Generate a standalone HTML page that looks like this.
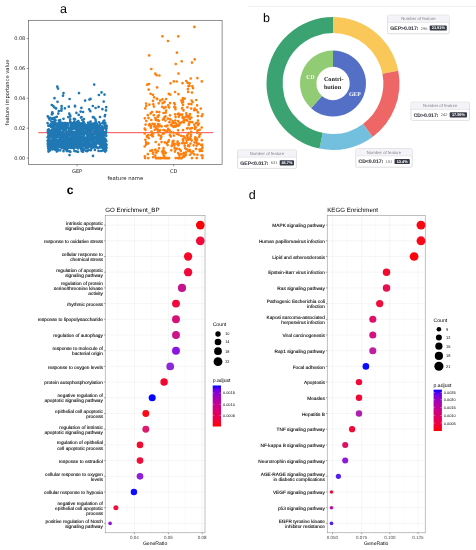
<!DOCTYPE html>
<html><head><meta charset="utf-8"><title>figure</title>
<style>
html,body{margin:0;padding:0;background:#fff;}
body{width:476px;height:550px;overflow:hidden;}
svg{display:block;text-rendering:geometricPrecision;filter:blur(0.35px);}
.ar{font-family:"Liberation Sans",Arial,sans-serif;}
.lb{stroke:#000;stroke-width:.09px;}
.tb{stroke:#3a3a42;stroke-width:.12px;}
.arb{font-family:"Liberation Sans",Arial,sans-serif;font-weight:bold;}
.dv{font-family:"DejaVu Sans","Liberation Sans",sans-serif;fill:#222;}
.srb{font-family:"Liberation Serif","Times New Roman",serif;font-weight:bold;}
</style></head><body>
<svg width="476" height="550" viewBox="0 0 476 550">
<defs><linearGradient id="pg" x1="0" y1="0" x2="0" y2="1"><stop offset="0.0" stop-color="#0000ff"/><stop offset="0.1" stop-color="#6800e7"/><stop offset="0.2" stop-color="#8d00ce"/><stop offset="0.3" stop-color="#a600b7"/><stop offset="0.4" stop-color="#ba009f"/><stop offset="0.5" stop-color="#ca0088"/><stop offset="0.6" stop-color="#d70072"/><stop offset="0.7" stop-color="#e3005b"/><stop offset="0.8" stop-color="#ed0044"/><stop offset="0.9" stop-color="#f6002a"/><stop offset="1.0" stop-color="#ff0000"/></linearGradient></defs>
<rect width="476" height="550" fill="#fff"/>
<line x1="38.3" y1="132.7" x2="213" y2="132.7" stroke="#f9353a" stroke-width="0.9"/>
<path d="M52.2 146.8h0M77.7 136.1h0M98.2 141.3h0M78.9 136.9h0M70.8 133.0h0M49.0 139.7h0M89.0 140.3h0M70.7 146.8h0M66.6 143.9h0M69.4 140.3h0M72.2 137.6h0M67.4 135.7h0M64.8 142.1h0M74.8 146.9h0M50.3 143.6h0M60.9 134.1h0M73.4 144.7h0M99.9 141.1h0M72.8 133.8h0M80.4 147.6h0M100.4 138.8h0M95.2 133.5h0M89.7 144.4h0M84.2 139.6h0M82.8 134.1h0M58.8 145.9h0M55.5 140.0h0M50.8 136.5h0M53.1 137.7h0M83.9 140.8h0M83.5 144.8h0M49.7 140.5h0M97.1 142.3h0M73.6 140.7h0M79.4 142.4h0M51.9 135.2h0M98.3 136.2h0M52.2 143.2h0M60.0 139.2h0M75.0 143.7h0M77.0 141.0h0M79.1 142.6h0M102.9 137.9h0M49.6 142.3h0M87.5 140.9h0M72.9 137.0h0M95.6 141.7h0M87.0 134.1h0M95.6 145.2h0M98.6 136.7h0M93.7 141.5h0M55.3 141.4h0M79.3 138.3h0M93.3 140.0h0M93.3 141.6h0M102.4 147.9h0M72.1 146.5h0M48.0 137.1h0M90.6 140.0h0M64.0 137.3h0M86.3 133.4h0M50.4 137.5h0M68.5 147.1h0M85.0 143.2h0M55.0 138.9h0M66.3 144.4h0M56.1 133.2h0M100.3 133.5h0M93.3 135.0h0M85.3 140.7h0M78.3 135.1h0M105.4 145.9h0M62.8 143.2h0M89.3 140.9h0M52.6 136.6h0M84.3 140.5h0M59.1 145.9h0M48.1 142.7h0M101.3 143.0h0M64.0 143.4h0M106.1 145.4h0M87.7 141.6h0M87.2 141.1h0M87.4 136.1h0M106.2 135.8h0M60.8 140.0h0M106.0 140.9h0M66.5 136.1h0M53.1 134.4h0M102.1 137.7h0M53.3 135.7h0M75.6 133.6h0M96.9 147.3h0M63.9 134.6h0M90.1 143.7h0M85.5 140.7h0M88.4 135.8h0M56.4 137.0h0M89.1 145.7h0M97.2 137.9h0M55.9 146.9h0M104.4 142.5h0M103.8 135.6h0M66.4 141.4h0M104.1 138.8h0M103.1 136.8h0M54.4 135.4h0M91.5 136.4h0M104.5 147.8h0M96.3 141.5h0M55.4 140.9h0M71.6 147.1h0M80.9 139.7h0M69.5 138.7h0M70.3 135.3h0M53.2 133.6h0M47.9 146.0h0M65.6 144.4h0M72.6 137.9h0M81.8 145.9h0M104.1 144.5h0M52.8 139.2h0M68.1 145.4h0M99.0 136.0h0M96.4 134.9h0M54.1 147.4h0M87.5 139.8h0M52.8 135.8h0M103.5 133.1h0M62.9 143.8h0M83.4 145.4h0M75.4 134.6h0M77.8 134.1h0M60.2 144.9h0M68.7 141.2h0M64.2 137.0h0M84.0 135.1h0M72.5 145.4h0M82.5 137.8h0M79.3 135.6h0M86.9 139.6h0M105.3 145.4h0M79.1 147.4h0M79.9 143.7h0M83.9 135.6h0M79.9 147.3h0M71.8 147.8h0M62.1 142.4h0M79.3 147.0h0M62.1 145.7h0M86.5 147.6h0M100.0 139.9h0M94.9 137.3h0M94.1 141.4h0M60.1 145.9h0M49.5 142.9h0M59.6 138.9h0M81.3 133.6h0M54.9 132.8h0M53.4 144.3h0M106.6 147.8h0M68.5 135.3h0M51.3 133.8h0M77.8 141.0h0M88.8 136.2h0M74.7 134.7h0M55.3 138.7h0M78.0 134.6h0M51.6 147.6h0M90.7 143.8h0M103.1 143.7h0M50.0 146.1h0M81.3 134.1h0M96.7 147.5h0M85.4 137.7h0M56.3 146.9h0M51.5 142.4h0M74.6 141.6h0M50.4 145.2h0M97.0 140.0h0M78.1 139.8h0M66.3 143.1h0M93.1 136.7h0M60.2 145.5h0M77.9 145.0h0M77.5 142.5h0M53.7 142.2h0M94.9 144.8h0M88.9 133.9h0M59.3 135.3h0M73.0 146.3h0M65.8 142.3h0M103.0 144.4h0M87.0 141.1h0M103.4 143.7h0M92.9 140.3h0M94.4 133.9h0M65.9 142.1h0M97.7 138.0h0M67.3 138.9h0M96.5 136.5h0M89.5 147.0h0M77.7 136.6h0M57.6 133.5h0M83.1 138.7h0M84.5 143.6h0M88.1 137.7h0M51.4 137.1h0M62.3 137.9h0M80.7 145.7h0M98.0 133.1h0M61.3 133.4h0M100.6 141.5h0M105.2 138.9h0M52.8 147.3h0M90.4 132.9h0M71.0 135.5h0M55.7 138.2h0M60.7 136.3h0M68.9 145.1h0M48.6 143.3h0M88.6 144.2h0M74.4 138.9h0M68.0 146.5h0M98.9 134.3h0M104.7 140.9h0M74.6 141.2h0M65.9 146.3h0M83.2 137.5h0M71.5 135.5h0M100.3 138.4h0M64.6 144.3h0M55.1 136.0h0M48.4 145.7h0M57.6 135.3h0M53.1 139.1h0M101.4 143.5h0M87.8 140.1h0M81.9 138.4h0M103.4 144.0h0M84.1 135.0h0M89.3 141.5h0M56.9 134.3h0M64.5 135.2h0M84.1 146.4h0M97.0 138.1h0M64.2 143.2h0M74.4 136.5h0M64.2 139.7h0M64.6 141.0h0M81.5 134.3h0M101.9 147.1h0M105.3 139.5h0M81.0 142.9h0M48.9 147.4h0M63.9 136.5h0M86.3 139.4h0M102.2 134.3h0M56.1 138.8h0M96.6 142.8h0M99.6 132.9h0M52.8 146.2h0M101.1 147.1h0M82.7 136.8h0M97.6 142.3h0M87.4 142.4h0M87.7 134.6h0M99.3 143.0h0M92.7 134.4h0M71.7 138.1h0M70.1 142.9h0M104.8 147.0h0M63.1 144.2h0M69.8 133.2h0M56.0 141.8h0M67.6 145.5h0M82.1 143.4h0M59.0 134.2h0M72.7 145.4h0M83.5 136.1h0M70.3 145.9h0M92.2 133.3h0M78.0 139.9h0M66.7 147.3h0M90.4 133.8h0M80.3 142.5h0M74.2 136.8h0M57.0 140.0h0M105.9 146.5h0M57.8 146.3h0M70.3 145.7h0M82.2 145.5h0M102.8 147.1h0M65.3 147.2h0M54.3 133.5h0M89.3 146.6h0M103.8 140.2h0M74.3 146.1h0M106.6 144.7h0M66.6 136.3h0M99.6 133.6h0M47.6 140.8h0M87.7 147.9h0M99.9 132.7h0M64.1 147.2h0M97.7 142.0h0M83.0 139.7h0M66.5 134.4h0M50.0 135.4h0M86.7 138.7h0M69.7 141.9h0M79.7 135.2h0M59.3 134.7h0M48.6 134.7h0M53.2 137.0h0M85.4 146.5h0M55.0 143.4h0M65.1 140.5h0M82.5 140.2h0M63.7 135.3h0M75.5 144.3h0M71.9 137.8h0M93.5 142.2h0M71.4 136.1h0M64.3 145.0h0M105.9 140.7h0M57.7 146.4h0M85.4 144.7h0M84.4 133.7h0M68.2 143.1h0M91.5 134.3h0M92.1 140.0h0M75.7 147.3h0M66.6 135.9h0M54.2 147.2h0M99.0 135.3h0M105.7 147.8h0M64.1 137.7h0M66.5 145.4h0M85.7 142.7h0M93.6 133.4h0M97.5 140.5h0M93.0 137.9h0M87.8 136.7h0M84.3 146.3h0M48.4 135.2h0M76.5 134.0h0M89.4 145.6h0M65.4 139.6h0M62.1 143.6h0M71.9 136.7h0M79.7 147.5h0M48.2 140.1h0M92.0 135.9h0M89.5 136.7h0M60.8 146.3h0M62.2 135.3h0M57.8 144.3h0M71.9 135.6h0M104.3 140.4h0M70.6 145.5h0M102.3 136.8h0M58.2 135.6h0M61.7 137.3h0M77.5 133.2h0M56.4 144.0h0M54.2 144.4h0M87.2 145.7h0M67.8 139.7h0M88.9 141.9h0M61.0 142.5h0M65.2 140.9h0M100.4 143.8h0M81.8 147.9h0M54.8 140.8h0M72.4 143.7h0M53.4 141.1h0M51.4 133.8h0M80.9 145.2h0M54.1 138.2h0M60.2 138.1h0M51.8 143.7h0M54.1 140.8h0M74.0 133.2h0M57.3 142.7h0M66.1 137.1h0M73.3 135.1h0M59.0 142.4h0M55.5 132.9h0M56.2 138.4h0M103.2 140.3h0M68.1 137.0h0M74.5 141.5h0M92.1 137.1h0M94.1 143.8h0M88.7 133.8h0M100.3 139.7h0M79.0 144.3h0M57.3 141.3h0M83.7 134.3h0M74.3 135.6h0M96.6 140.6h0M61.9 142.6h0M87.6 142.2h0M48.1 133.0h0M70.2 146.2h0M68.0 134.4h0M53.1 134.9h0M96.1 144.5h0M96.5 142.6h0M62.3 139.3h0M89.6 135.7h0M100.9 133.5h0M81.8 132.8h0M69.3 143.7h0M87.9 145.0h0M70.9 140.5h0M81.3 139.4h0M86.7 137.9h0M64.8 146.3h0M86.7 138.1h0M77.6 133.9h0M82.6 134.0h0M64.6 133.6h0M91.7 133.9h0M56.3 133.3h0M76.0 147.2h0M79.0 134.0h0M48.0 143.8h0M94.7 143.1h0M80.3 141.0h0M52.2 133.4h0M97.8 138.7h0M89.5 142.6h0M101.7 142.2h0M87.9 134.2h0M77.3 135.4h0M94.3 145.8h0M68.7 144.2h0M73.3 142.3h0M68.6 144.6h0M66.8 139.4h0M103.3 144.5h0M77.5 139.2h0M77.5 133.7h0M69.9 135.0h0M66.9 146.4h0M61.2 144.8h0M103.7 141.7h0M90.9 138.1h0M76.0 142.1h0M82.9 144.1h0M97.1 142.7h0M69.4 144.8h0M64.2 134.8h0M75.8 137.3h0M74.7 141.7h0M96.7 137.3h0M100.5 140.0h0M98.4 139.9h0M88.6 142.3h0M78.8 140.5h0M57.8 132.9h0M102.6 136.0h0M98.1 135.3h0M78.6 146.0h0M92.1 140.3h0M100.7 142.4h0M65.5 146.6h0M81.5 141.9h0M104.3 146.8h0M60.7 144.4h0M56.4 135.8h0M103.7 137.5h0M99.4 137.3h0M50.1 146.7h0M81.8 145.4h0M85.7 147.6h0M89.9 146.5h0M84.0 146.4h0M80.8 133.3h0M83.5 134.3h0M84.2 144.8h0M53.0 144.1h0M57.8 133.3h0M64.4 139.3h0M102.4 142.3h0M75.1 140.8h0M83.8 143.8h0M104.8 139.1h0M53.4 136.9h0M58.9 140.1h0M64.2 135.4h0M101.9 146.2h0M90.0 138.7h0M55.2 132.9h0M51.7 145.7h0M57.6 140.4h0M101.7 138.3h0M72.4 142.8h0M99.0 133.2h0M97.6 140.5h0M104.7 140.6h0M79.6 134.2h0M63.7 147.7h0M78.0 134.7h0M100.4 146.0h0M103.6 142.2h0M71.0 140.5h0M76.3 140.7h0M94.7 147.3h0M71.0 143.1h0M61.7 142.5h0M64.0 133.4h0M75.9 134.0h0M61.6 139.0h0M92.8 133.7h0M87.0 134.8h0M102.7 142.2h0M91.7 146.2h0M74.3 138.7h0M58.3 143.0h0M61.4 147.8h0M100.0 133.0h0M85.1 133.2h0M53.8 139.8h0M77.1 138.5h0M92.9 137.8h0M95.1 133.8h0M97.2 140.8h0M101.4 139.1h0M76.1 144.5h0M87.0 144.2h0M51.8 140.0h0M86.7 144.5h0M78.0 147.5h0M60.1 142.3h0M62.5 136.5h0M89.4 143.7h0M60.9 134.8h0M67.8 137.2h0M69.8 138.0h0M92.5 134.3h0M58.9 146.8h0M52.2 145.2h0M58.4 134.1h0M89.7 134.1h0M50.5 146.8h0M80.3 136.1h0M77.3 147.7h0M69.7 145.9h0M68.1 146.3h0M79.4 143.5h0M51.1 142.0h0M66.6 134.1h0M72.2 141.3h0M55.9 146.1h0M78.6 143.8h0M65.8 147.8h0M51.4 147.5h0M55.1 149.7h0M66.9 149.3h0M86.7 150.6h0M94.9 150.0h0M76.3 151.3h0M50.3 148.6h0M83.4 149.9h0M101.1 151.0h0M50.6 149.4h0M68.1 150.8h0M48.5 150.4h0M81.7 151.2h0M53.7 148.0h0M103.2 150.4h0M71.6 147.1h0M84.3 149.8h0M67.0 151.1h0M67.4 148.3h0M48.2 148.2h0M98.8 147.5h0M63.5 151.2h0M62.2 147.9h0M68.8 147.6h0M58.4 150.3h0M66.0 149.6h0M64.1 148.8h0M105.2 150.6h0M99.4 147.5h0M64.2 148.4h0M97.2 147.6h0M49.8 149.6h0M81.2 149.3h0M98.6 150.9h0M60.3 150.3h0M57.0 148.2h0M94.5 147.1h0M86.2 151.1h0M105.2 151.6h0M56.9 151.5h0M56.3 149.7h0M50.8 147.9h0M66.7 150.7h0M50.3 149.5h0M83.8 149.3h0M52.6 147.7h0M74.4 151.0h0M78.0 151.8h0M52.6 149.3h0M88.5 150.1h0M106.1 150.4h0M70.5 148.0h0M78.1 148.5h0M69.7 151.4h0M105.5 149.1h0M97.8 147.9h0M104.8 147.3h0M70.4 151.8h0M66.2 147.8h0M48.5 151.6h0M52.1 148.5h0M104.1 148.9h0M82.1 147.1h0M73.9 148.7h0M56.8 151.5h0M103.0 148.5h0M49.8 150.6h0M85.9 147.7h0M83.0 151.7h0M90.8 150.2h0M91.5 148.5h0M87.4 151.1h0M80.3 125.5h0M73.2 124.9h0M95.0 124.5h0M55.4 122.9h0M64.2 128.1h0M93.8 131.1h0M100.1 129.8h0M86.7 128.3h0M50.5 132.1h0M96.7 124.8h0M104.8 132.0h0M74.8 132.1h0M70.6 122.3h0M68.4 123.7h0M83.4 129.9h0M57.5 128.9h0M55.5 123.5h0M106.2 125.8h0M77.2 129.7h0M78.0 127.7h0M65.3 123.1h0M50.1 132.7h0M51.3 121.6h0M51.0 126.4h0M89.1 130.7h0M93.7 123.7h0M103.8 131.9h0M105.6 128.1h0M56.5 126.3h0M48.4 129.9h0M88.0 122.8h0M64.8 124.9h0M102.1 130.9h0M76.4 131.0h0M73.4 132.0h0M72.4 126.3h0M65.7 130.6h0M80.9 126.6h0M58.4 123.5h0M105.3 122.9h0M95.2 131.4h0M98.0 129.0h0M103.5 128.0h0M87.9 128.4h0M100.9 128.0h0M91.2 127.6h0M75.6 124.2h0M48.7 129.3h0M78.0 128.9h0M79.4 128.3h0M91.1 131.0h0M98.9 125.6h0M84.7 128.2h0M52.7 122.4h0M52.9 123.5h0M99.1 130.1h0M99.7 130.0h0M71.2 123.9h0M51.5 126.4h0M53.9 132.6h0M54.3 125.6h0M101.6 128.3h0M71.6 123.9h0M75.0 124.3h0M96.0 122.4h0M61.9 124.9h0M79.0 122.5h0M81.7 129.5h0M72.1 128.9h0M54.6 132.0h0M72.6 123.0h0M54.1 131.0h0M66.3 126.5h0M71.2 127.0h0M58.8 123.6h0M106.5 128.4h0M88.3 131.1h0M102.6 128.4h0M102.7 132.2h0M64.5 129.3h0M56.1 125.6h0M106.2 132.1h0M77.7 121.6h0M87.6 126.7h0M98.8 129.3h0M67.6 123.4h0M82.6 131.2h0M65.2 129.1h0M60.2 122.2h0M49.5 130.0h0M61.5 124.5h0M62.3 131.8h0M91.7 126.7h0M78.1 125.3h0M93.3 130.4h0M64.4 129.0h0M60.1 126.5h0M81.7 126.1h0M63.6 131.0h0M92.1 128.1h0M70.1 121.5h0M64.1 129.1h0M92.1 123.9h0M58.7 130.4h0M90.4 127.5h0M70.6 126.9h0M52.5 126.0h0M84.7 124.7h0M83.6 123.8h0M53.4 124.9h0M74.7 123.7h0M74.9 122.8h0M89.9 129.1h0M59.1 123.4h0M80.6 126.9h0M106.2 129.8h0M48.4 130.8h0M89.9 124.1h0M68.2 125.6h0M76.2 131.9h0M64.2 126.1h0M74.7 132.2h0M76.8 128.3h0M102.0 126.3h0M99.2 125.4h0M102.6 130.9h0M104.8 132.2h0M70.9 126.3h0M93.7 123.5h0M100.2 123.8h0M54.4 128.7h0M90.5 126.2h0M81.7 124.7h0M59.3 122.9h0M84.9 127.2h0M88.2 122.9h0M86.2 129.1h0M47.9 130.2h0M102.3 129.4h0M68.3 124.5h0M95.0 122.8h0M56.6 127.4h0M83.1 124.9h0M50.9 131.2h0M80.5 127.0h0M85.8 127.8h0M70.4 127.9h0M90.0 130.6h0M75.6 125.7h0M50.8 125.2h0M49.8 125.6h0M50.5 124.4h0M67.6 127.6h0M102.5 123.2h0M67.0 126.3h0M95.8 122.8h0M85.7 128.1h0M89.1 124.9h0M86.3 130.5h0M59.4 131.8h0M99.1 122.3h0M72.3 128.6h0M102.8 132.2h0M48.4 125.8h0M54.3 122.3h0M55.4 124.1h0M90.6 121.6h0M53.8 122.2h0M73.1 127.6h0M77.9 130.1h0M77.9 132.0h0M64.9 129.7h0M99.7 125.6h0M74.3 122.5h0M57.9 132.7h0M80.5 123.5h0M54.2 124.1h0M87.1 125.0h0M57.8 131.3h0M100.2 132.1h0M52.1 124.5h0M65.8 125.5h0M60.3 128.6h0M81.2 128.8h0M71.5 132.3h0M74.3 121.6h0M74.0 123.3h0M83.7 121.8h0M63.0 123.5h0M66.6 127.6h0M62.8 123.2h0M56.1 130.5h0M84.5 125.2h0M102.8 130.0h0M101.3 128.3h0M104.6 122.9h0M54.0 127.9h0M89.9 122.7h0M51.9 126.0h0M95.8 129.4h0M97.5 129.8h0M75.9 132.7h0M105.9 126.3h0M74.9 123.3h0M79.5 130.2h0M67.5 127.3h0M96.0 121.7h0M80.9 128.3h0M77.1 122.2h0M72.6 123.4h0M92.1 127.2h0M51.8 125.6h0M84.9 132.0h0M51.8 126.9h0M60.4 124.2h0M49.5 119.6h0M78.3 121.1h0M103.4 121.3h0M60.1 120.2h0M54.2 119.5h0M78.7 114.9h0M48.7 117.7h0M68.3 117.1h0M73.9 118.9h0M52.1 119.0h0M100.0 117.0h0M70.2 115.4h0M82.3 120.0h0M54.2 117.9h0M104.8 116.2h0M58.3 113.6h0M75.1 119.3h0M52.7 118.3h0M56.8 116.8h0M55.5 120.3h0M70.3 116.5h0M52.7 113.5h0M75.1 119.3h0M81.0 117.6h0M58.8 120.5h0M92.9 117.2h0M52.0 113.5h0M81.5 117.0h0M95.5 119.7h0M83.9 119.0h0M47.8 116.4h0M51.9 114.5h0M50.2 117.8h0M55.1 117.5h0M78.7 114.9h0M104.3 120.6h0M69.3 113.7h0M94.2 117.7h0M63.5 118.8h0M105.1 115.1h0M70.2 119.4h0M59.1 120.3h0M58.8 111.0h0M54.3 107.3h0M52.3 112.4h0M102.4 109.2h0M90.3 111.2h0M56.1 108.4h0M83.1 112.0h0M75.0 106.4h0M51.8 105.0h0M106.0 110.4h0M61.5 110.1h0M81.4 107.9h0M68.8 106.7h0M76.4 112.8h0M106.2 107.2h0M92.8 106.0h0M61.6 106.2h0M89.2 109.4h0M75.0 105.9h0M61.6 108.4h0M80.6 111.6h0M61.3 110.7h0M95.6 108.0h0M64.9 108.3h0M53.3 106.1h0M98.6 106.9h0M57.5 101.8h0M89.4 99.6h0M98.9 95.0h0M90.5 98.9h0M103.7 101.6h0M63.5 93.1h0M69.6 99.0h0M85.1 100.6h0M54.5 98.2h0M106.0 140.2h0M86.6 141.0h0M87.7 131.3h0M82.1 128.0h0M77.4 137.6h0M59.0 143.7h0M53.7 135.9h0M62.6 137.7h0M49.2 136.9h0M84.4 141.7h0M58.2 128.7h0M102.0 142.7h0M54.0 146.7h0M66.4 130.4h0M98.4 129.3h0M84.3 141.8h0M72.0 143.4h0M90.8 133.3h0M71.2 125.0h0M56.8 141.4h0M105.5 134.3h0M99.1 141.1h0M91.2 129.4h0M64.1 136.1h0M77.5 138.3h0M52.7 131.5h0M49.8 134.5h0M103.5 142.7h0M72.2 137.4h0M60.4 124.1h0M94.2 127.9h0M78.6 135.0h0M86.7 131.4h0M53.9 144.1h0M73.9 137.5h0M71.7 125.6h0M64.9 143.0h0M58.1 123.4h0M99.2 126.7h0M91.5 130.7h0M80.9 138.4h0M63.7 145.4h0M85.0 140.4h0M71.8 129.4h0M47.6 137.3h0M84.4 127.9h0M86.9 142.3h0M104.5 127.3h0M96.4 126.4h0M52.2 129.8h0M66.2 142.6h0M50.1 142.2h0M51.5 146.1h0M75.0 146.4h0M59.9 129.4h0M51.1 135.5h0M84.6 128.9h0M102.1 140.7h0M96.4 139.1h0M50.7 125.6h0M65.1 123.1h0M49.7 145.1h0M72.4 128.4h0M102.9 133.9h0M58.9 147.5h0M90.8 132.4h0M76.8 140.7h0M78.3 139.0h0M96.8 123.8h0M65.9 129.3h0M66.7 146.3h0M91.2 130.9h0M55.8 147.3h0M53.8 125.8h0M71.8 132.9h0M70.8 132.1h0M65.4 147.2h0M62.5 145.6h0M99.6 134.7h0M71.8 138.2h0M65.8 127.5h0M94.1 140.6h0M97.6 137.8h0M89.0 144.7h0M104.6 135.2h0M54.8 124.1h0M74.0 141.1h0M95.5 128.2h0M105.2 143.6h0M59.2 125.8h0M91.5 135.0h0M60.0 144.5h0M71.0 128.4h0M92.0 125.8h0M93.1 144.1h0M50.9 144.7h0M62.6 141.4h0M104.5 135.0h0M81.2 124.2h0M81.7 126.4h0M62.6 139.6h0M74.2 146.7h0M63.6 133.0h0M55.6 133.5h0M64.4 141.7h0M80.5 132.8h0M78.5 123.5h0M78.5 144.1h0M67.9 139.9h0M73.3 126.7h0M99.2 143.7h0M102.0 144.5h0M100.6 143.4h0M61.4 128.7h0M85.1 144.5h0M93.0 145.4h0M66.9 132.2h0M75.7 128.7h0M98.2 129.0h0M89.1 137.0h0M90.5 125.1h0M52.2 143.9h0M50.6 136.8h0M88.3 138.5h0M81.4 134.2h0M57.6 142.9h0M47.8 144.0h0M61.4 123.4h0M84.4 140.2h0M69.0 135.3h0M86.0 125.1h0M56.6 140.2h0M85.9 138.6h0M54.1 133.8h0M100.5 146.0h0M62.7 147.1h0M47.8 132.0h0M94.9 138.5h0M66.5 145.7h0M71.7 140.6h0M56.0 130.6h0M59.5 128.9h0M71.1 135.2h0M64.7 142.2h0M77.4 127.0h0M63.3 142.5h0M73.4 129.0h0M49.2 143.9h0M77.3 124.6h0M83.1 128.6h0M100.7 135.3h0M89.9 136.9h0M52.2 133.5h0M69.1 131.3h0M92.4 133.9h0M90.0 130.5h0M50.7 145.5h0M49.2 137.4h0M76.9 129.1h0M74.0 136.8h0M55.6 123.7h0M63.2 134.5h0M68.2 140.0h0M94.1 125.7h0M62.9 137.2h0M95.2 134.2h0M97.2 131.8h0M62.1 126.5h0M98.0 142.5h0M52.3 126.1h0M70.1 133.5h0M53.4 138.6h0M66.6 139.4h0M64.3 123.4h0M92.6 124.3h0M96.8 134.2h0M67.3 139.1h0M67.6 123.6h0M104.6 147.2h0M57.1 146.4h0M75.5 135.7h0M82.5 133.2h0M86.4 147.5h0M56.6 143.0h0M66.3 145.5h0M56.3 141.5h0M92.3 143.1h0M90.6 144.6h0M96.2 144.5h0M72.9 138.5h0M48.6 144.5h0M100.8 128.6h0M53.7 137.7h0M60.8 144.8h0M49.3 131.6h0M70.9 128.2h0M88.6 138.8h0M102.5 147.5h0M80.0 131.6h0M52.7 129.1h0M99.8 125.7h0M53.3 130.1h0M59.6 132.9h0M60.5 139.2h0M100.0 141.6h0M71.8 146.0h0M97.4 127.5h0M80.5 133.8h0M75.8 140.5h0M94.1 144.6h0M60.0 140.5h0M63.6 129.0h0M101.5 142.3h0M83.2 146.4h0M70.0 138.3h0M84.7 139.4h0M91.9 130.5h0M89.7 133.9h0M77.4 136.0h0M84.4 123.6h0M61.5 126.8h0M76.0 144.5h0M99.8 141.5h0M101.6 137.3h0M48.8 145.9h0M62.6 129.0h0M63.0 128.7h0M66.9 140.4h0M65.5 125.3h0M64.1 134.0h0M75.5 142.1h0M61.8 132.3h0M90.7 131.1h0M49.2 130.0h0M104.5 123.7h0M58.7 125.1h0M100.4 137.5h0M87.7 137.0h0M99.8 147.1h0M73.2 137.4h0M66.7 143.3h0M83.6 144.7h0M59.1 127.5h0M72.4 147.1h0M79.6 144.5h0M54.8 131.3h0M94.9 133.7h0M74.6 137.1h0M79.0 127.7h0M87.7 141.8h0M100.7 142.6h0M55.6 135.0h0M58.9 145.0h0M54.8 130.7h0M104.5 124.6h0M73.0 127.6h0M90.0 125.9h0M57.4 145.8h0M102.4 137.2h0M54.9 125.4h0M87.5 126.9h0M49.1 133.0h0M98.7 131.5h0M70.5 141.1h0M84.7 141.1h0M83.0 146.0h0M59.5 125.4h0M74.4 140.5h0M47.6 123.2h0M93.9 147.5h0M74.5 127.9h0M63.9 134.7h0M70.8 146.6h0M71.7 131.3h0M56.9 130.3h0M69.2 130.4h0M87.6 130.5h0M80.6 130.9h0M106.2 128.7h0M91.8 138.3h0M96.5 124.0h0M56.2 135.7h0M78.3 141.0h0M62.0 123.2h0M61.6 140.8h0M67.0 136.8h0M81.2 130.4h0M72.0 128.0h0M71.1 139.8h0M69.1 146.8h0M105.9 133.4h0M72.5 133.1h0M101.9 129.7h0M106.3 141.2h0M84.3 127.4h0M105.3 128.6h0M106.7 126.4h0M95.7 129.0h0M89.8 131.1h0M60.6 134.0h0M58.4 126.5h0M50.6 142.1h0M60.3 131.3h0M78.8 128.1h0M73.4 128.5h0M92.2 144.4h0M65.3 139.9h0M84.2 124.7h0M68.9 128.6h0M60.6 143.8h0M93.4 135.7h0M64.8 127.7h0M78.2 126.5h0M62.4 134.8h0M85.9 145.1h0M57.8 142.2h0M51.2 147.0h0M84.6 143.6h0M76.8 146.1h0M86.0 130.4h0M52.1 130.4h0M93.5 136.7h0M50.4 125.9h0M104.1 144.0h0M103.1 142.9h0M94.9 132.6h0M66.0 134.6h0M85.7 144.6h0M106.2 125.3h0M89.9 132.3h0M86.6 132.7h0M49.3 138.4h0M49.7 132.7h0M84.7 145.9h0M75.0 140.2h0M76.5 132.0h0M58.8 132.9h0M65.6 134.7h0M100.2 146.3h0M69.1 139.7h0M105.0 123.4h0M57.4 124.4h0M79.0 127.4h0M85.3 146.1h0M88.1 145.8h0M95.2 142.4h0M92.3 127.2h0M95.9 142.6h0M51.0 142.1h0M52.3 141.2h0M55.4 129.6h0M59.2 134.6h0M90.0 126.4h0M79.3 145.8h0M89.4 146.4h0M83.0 126.8h0M80.6 145.0h0M58.5 130.0h0M98.4 132.7h0M93.3 142.5h0M92.3 141.2h0M102.7 129.4h0M70.9 147.1h0M72.5 124.1h0M75.4 146.5h0M68.2 143.7h0M77.8 131.9h0M84.6 144.8h0M82.3 123.1h0M57.9 137.0h0M90.4 145.9h0M51.7 143.6h0M59.8 134.3h0M71.0 126.2h0M96.4 141.3h0M62.4 137.8h0M96.5 133.6h0M81.9 131.6h0M88.9 129.8h0M65.0 139.6h0M105.0 138.5h0M86.0 126.1h0M52.3 125.3h0M95.2 137.4h0M75.2 123.1h0M96.9 143.3h0M89.0 127.4h0M104.7 125.2h0M101.3 133.7h0M87.0 130.6h0M92.8 146.2h0M51.1 126.9h0M94.6 130.8h0M91.0 133.4h0M103.3 133.3h0M92.2 143.7h0M84.0 126.8h0M93.6 134.6h0M83.2 132.7h0M76.1 143.5h0M105.5 132.2h0M76.8 141.8h0M53.5 128.9h0M50.2 147.0h0M69.3 144.6h0M74.5 142.4h0M80.4 137.8h0M51.6 126.2h0M80.1 147.5h0M104.2 133.9h0M92.0 146.8h0M89.1 138.3h0M78.0 140.3h0M99.9 143.6h0M52.9 135.8h0M93.5 139.2h0M89.7 141.2h0M69.9 132.6h0M76.5 141.6h0M56.5 123.7h0M47.9 141.5h0M67.4 123.3h0M67.5 143.7h0M78.3 124.2h0M68.0 146.1h0M100.1 147.5h0M56.0 145.2h0M96.3 130.2h0M79.7 141.9h0M60.6 140.9h0M99.4 131.0h0M80.2 146.9h0M53.2 134.3h0M98.8 137.8h0M63.6 143.7h0M81.3 125.2h0M87.7 138.8h0M91.5 140.5h0M89.9 130.5h0M96.7 126.6h0M93.1 142.0h0M58.7 144.5h0M80.5 124.0h0M76.7 137.1h0M55.4 134.5h0M73.2 136.4h0M93.5 127.2h0M73.8 137.1h0M70.7 129.0h0M75.7 134.8h0M57.3 86.7h0M58.0 88.6h0M94.2 84.6h0M101.5 92.4h0M104.5 94.6h0M69.5 155.1h0M93.0 155.9h0M63.0 95.7h0M79.0 93.1h0" stroke="#1f77b4" stroke-width="2.70" stroke-linecap="round" fill="none"/>
<path d="M160.1 158.1h0M196.7 158.1h0M155.9 158.1h0M180.0 158.1h0M181.9 158.1h0M179.7 158.1h0M166.3 158.1h0M158.8 158.1h0M145.1 158.1h0M156.5 158.1h0M192.0 158.1h0M160.8 158.1h0M175.7 158.1h0M161.9 158.1h0M148.3 158.1h0M169.1 158.1h0M202.4 158.1h0M168.0 158.1h0M164.0 158.1h0M177.9 158.1h0M165.5 158.1h0M158.3 158.1h0M166.8 143.4h0M197.0 138.5h0M152.9 136.3h0M152.2 150.2h0M188.5 150.9h0M155.5 149.6h0M152.2 136.0h0M158.8 135.2h0M196.0 148.9h0M199.3 136.8h0M198.9 143.9h0M162.9 133.7h0M197.3 143.3h0M148.3 135.1h0M172.6 143.7h0M176.7 148.7h0M170.8 136.4h0M201.5 149.0h0M188.5 137.9h0M172.4 144.3h0M187.2 149.4h0M189.0 145.6h0M151.1 135.0h0M163.4 150.0h0M163.7 155.2h0M199.5 135.1h0M194.3 154.4h0M162.1 151.7h0M202.1 145.5h0M148.8 138.1h0M164.0 133.3h0M156.3 152.7h0M174.9 151.6h0M197.3 132.8h0M190.5 143.5h0M146.8 136.1h0M159.1 148.3h0M189.9 150.2h0M160.9 135.8h0M192.2 152.3h0M180.8 150.8h0M185.2 148.3h0M186.2 149.1h0M178.2 153.2h0M155.3 150.2h0M191.8 153.1h0M177.4 144.2h0M186.6 140.2h0M146.1 144.6h0M155.2 155.6h0M177.5 142.8h0M191.2 139.8h0M165.6 153.0h0M188.3 145.4h0M144.7 133.4h0M147.2 137.0h0M184.7 146.1h0M202.1 151.0h0M163.0 153.4h0M164.2 156.2h0M164.4 151.6h0M178.3 145.3h0M167.6 145.1h0M165.8 153.1h0M189.3 146.2h0M144.7 146.5h0M195.3 137.4h0M187.7 134.6h0M200.3 133.8h0M193.6 145.3h0M190.8 136.4h0M161.6 142.1h0M190.0 154.8h0M179.4 155.6h0M164.9 142.4h0M191.7 140.6h0M173.1 141.3h0M201.9 145.4h0M186.6 142.7h0M195.8 141.0h0M197.1 140.0h0M178.6 153.8h0M196.6 145.6h0M179.4 149.2h0M174.4 145.4h0M202.5 147.7h0M185.1 155.6h0M184.8 137.9h0M202.1 144.5h0M181.2 135.8h0M144.8 156.3h0M184.0 155.0h0M181.2 154.2h0M187.0 135.9h0M201.3 144.9h0M187.5 138.9h0M202.5 155.5h0M190.5 139.0h0M201.6 155.4h0M169.9 134.9h0M158.9 144.7h0M176.7 133.7h0M196.3 141.7h0M194.6 142.5h0M183.6 153.2h0M168.1 141.8h0M160.6 138.8h0M146.1 142.3h0M168.9 140.4h0M173.9 135.6h0M201.8 140.2h0M177.6 141.5h0M178.3 144.4h0M171.7 146.1h0M145.4 139.8h0M161.3 136.9h0M182.9 139.4h0M185.8 154.9h0M199.9 151.0h0M172.6 142.2h0M184.7 143.4h0M191.0 134.7h0M188.7 133.1h0M151.9 135.3h0M196.4 142.4h0M188.4 139.6h0M183.6 136.4h0M153.0 153.7h0M199.5 149.6h0M184.2 156.7h0M155.7 142.0h0M178.7 134.7h0M153.2 157.2h0M147.8 154.2h0M186.0 152.4h0M187.5 138.1h0M174.6 148.2h0M153.3 152.5h0M163.6 148.2h0M150.7 151.0h0M157.8 151.2h0M148.4 143.4h0M183.2 140.8h0M189.9 151.2h0M174.7 143.8h0M183.0 156.6h0M153.3 133.4h0M197.4 154.8h0M179.2 143.6h0M151.8 132.8h0M175.7 149.4h0M171.3 150.3h0M195.1 139.2h0M188.2 145.9h0M150.3 150.8h0M182.3 143.2h0M147.7 137.0h0M173.5 140.9h0M193.2 151.4h0M155.6 119.7h0M182.3 114.6h0M168.2 128.9h0M151.3 120.0h0M196.2 123.0h0M186.5 119.8h0M160.1 130.0h0M156.3 128.2h0M165.4 126.0h0M186.2 116.4h0M197.9 125.2h0M174.6 126.2h0M144.8 118.3h0M145.4 130.0h0M158.9 126.5h0M190.2 122.0h0M154.4 126.0h0M178.1 121.1h0M146.3 121.0h0M163.4 130.0h0M183.0 130.1h0M184.2 117.5h0M145.6 124.6h0M154.8 129.8h0M158.0 131.2h0M159.5 124.6h0M165.5 116.4h0M190.3 128.7h0M150.6 113.4h0M158.0 132.3h0M172.8 121.2h0M190.0 119.1h0M189.5 122.4h0M150.9 127.7h0M175.7 126.6h0M182.4 122.0h0M170.0 115.3h0M194.2 124.6h0M151.0 126.0h0M177.2 124.9h0M186.3 113.3h0M201.7 127.5h0M145.2 129.4h0M186.7 115.4h0M164.4 130.3h0M188.0 116.4h0M175.3 120.6h0M190.0 114.1h0M154.2 126.5h0M197.8 116.1h0M167.2 131.0h0M191.4 117.5h0M161.6 126.4h0M152.5 123.8h0M164.6 117.2h0M183.9 120.4h0M198.1 123.8h0M173.5 127.0h0M164.0 118.0h0M198.8 123.7h0M187.7 128.0h0M170.9 125.1h0M182.6 117.2h0M159.4 131.6h0M173.6 126.4h0M167.9 118.6h0M158.9 120.8h0M149.7 124.2h0M157.9 129.7h0M191.1 131.8h0M188.8 124.9h0M170.1 119.3h0M195.9 127.5h0M153.8 115.2h0M187.3 120.7h0M189.0 123.9h0M148.5 118.1h0M195.0 126.9h0M189.7 115.3h0M171.6 125.6h0M173.4 132.6h0M178.6 113.7h0M172.5 123.1h0M147.8 115.2h0M169.7 130.6h0M194.9 128.8h0M175.7 123.3h0M158.8 115.3h0M197.4 130.9h0M169.4 122.2h0M155.3 118.0h0M179.3 125.1h0M154.7 124.1h0M180.9 114.6h0M184.0 122.3h0M155.8 119.3h0M162.9 119.6h0M178.8 115.3h0M157.4 126.1h0M192.4 122.1h0M187.2 128.6h0M154.8 126.2h0M178.9 116.7h0M177.9 114.0h0M166.3 126.3h0M182.8 117.9h0M169.6 122.3h0M170.5 119.3h0M167.5 125.6h0M178.0 125.8h0M144.7 128.7h0M179.6 123.0h0M151.6 131.6h0M157.8 116.0h0M191.9 128.0h0M157.8 120.4h0M180.7 122.9h0M159.3 126.0h0M202.5 114.4h0M201.7 116.2h0M163.9 118.4h0M197.7 130.4h0M197.6 123.7h0M156.5 120.1h0M166.5 130.9h0M155.6 119.2h0M157.9 116.9h0M175.2 114.3h0M173.8 123.0h0M170.9 132.1h0M156.2 128.7h0M175.6 117.1h0M199.7 129.8h0M165.5 120.6h0M184.6 120.0h0M158.0 124.1h0M188.4 117.5h0M178.1 130.3h0M198.0 120.7h0M149.1 125.3h0M182.8 100.5h0M169.1 107.4h0M166.1 110.5h0M164.0 108.1h0M197.1 105.4h0M159.3 112.1h0M181.4 100.4h0M146.1 103.6h0M200.7 108.6h0M191.3 104.2h0M184.7 98.6h0M174.8 104.3h0M165.6 107.2h0M170.0 103.1h0M183.0 102.0h0M174.2 103.0h0M196.6 110.1h0M163.5 113.0h0M194.8 108.6h0M162.1 106.8h0M153.0 100.9h0M152.0 112.0h0M160.1 100.7h0M198.0 112.4h0M191.2 108.6h0M187.4 107.3h0M162.4 99.4h0M157.2 99.1h0M165.7 112.7h0M183.5 110.4h0M154.0 106.6h0M175.4 109.2h0M166.1 99.0h0M188.8 104.1h0M182.1 108.4h0M153.3 104.3h0M162.6 103.2h0M191.6 100.5h0M196.2 100.0h0M174.3 107.0h0M192.7 102.0h0M156.9 98.7h0M168.2 105.3h0M182.0 102.4h0M146.2 106.0h0M175.4 107.6h0M194.2 110.2h0M156.8 111.9h0M145.3 108.4h0M182.3 108.0h0M183.0 104.8h0M158.7 103.3h0M163.6 102.7h0M164.6 101.8h0M149.4 104.7h0M187.9 89.2h0M157.1 87.4h0M189.5 85.8h0M182.5 83.2h0M150.6 93.8h0M188.1 83.0h0M153.0 94.8h0M182.9 98.0h0M149.1 84.1h0M178.4 94.2h0M170.5 83.3h0M175.1 92.0h0M188.2 92.0h0M187.6 82.8h0M147.2 84.7h0M154.1 97.3h0M201.8 81.4h0M170.2 94.6h0M192.4 86.4h0M176.7 81.5h0M189.6 83.3h0M148.7 89.6h0M173.8 81.4h0M188.4 86.1h0M168.8 93.9h0M186.2 81.1h0M193.0 88.2h0M192.0 92.6h0M156.6 75.2h0M197.4 78.1h0M178.5 73.6h0M155.3 73.7h0M190.7 78.5h0M159.4 75.5h0M194.4 26.9h0M162.4 36.3h0M178.3 36.3h0M168.0 41.0h0M176.9 52.7h0M149.2 55.4h0M194.7 59.4h0M181.7 61.3h0M192.0 62.6h0M175.8 64.0h0M151.3 69.0h0" stroke="#ff7f0e" stroke-width="2.70" stroke-linecap="round" fill="none"/>
<rect x="28.5" y="20.3" width="193.6" height="144.1" fill="none" stroke="#555" stroke-width="0.65"/>
<line x1="26.7" y1="158.1" x2="28.5" y2="158.1" stroke="#333" stroke-width="0.5"/>
<text x="25.3" y="159.9" class="dv" font-size="5" text-anchor="end">0.00</text>
<line x1="26.7" y1="128.2" x2="28.5" y2="128.2" stroke="#333" stroke-width="0.5"/>
<text x="25.3" y="130.0" class="dv" font-size="5" text-anchor="end">0.02</text>
<line x1="26.7" y1="98.3" x2="28.5" y2="98.3" stroke="#333" stroke-width="0.5"/>
<text x="25.3" y="100.1" class="dv" font-size="5" text-anchor="end">0.04</text>
<line x1="26.7" y1="68.5" x2="28.5" y2="68.5" stroke="#333" stroke-width="0.5"/>
<text x="25.3" y="70.3" class="dv" font-size="5" text-anchor="end">0.06</text>
<line x1="26.7" y1="38.6" x2="28.5" y2="38.6" stroke="#333" stroke-width="0.5"/>
<text x="25.3" y="40.4" class="dv" font-size="5" text-anchor="end">0.08</text>
<line x1="77.1" y1="164.4" x2="77.1" y2="166.2" stroke="#333" stroke-width="0.5"/>
<text x="77.1" y="172.8" class="dv" font-size="5" text-anchor="middle">GEP</text>
<line x1="173.7" y1="164.4" x2="173.7" y2="166.2" stroke="#333" stroke-width="0.5"/>
<text x="173.7" y="172.8" class="dv" font-size="5" text-anchor="middle">CD</text>
<text x="125.3" y="179.9" class="dv" font-size="5.3" text-anchor="middle">feature name</text>
<text transform="translate(9.3,92.5) rotate(-90)" class="dv" font-size="5.2" text-anchor="middle">feature importance value</text>
<text x="59.9" y="12.6" class="ar" font-size="12.5">a</text>
<line x1="247.5" y1="6.4" x2="476" y2="6.4" stroke="#efefef" stroke-width="1"/>
<path d="M333.00 17.00A66.50 66.50 0 0 1 398.26 70.74L382.46 73.83A50.40 50.40 0 0 0 333.00 33.10Z" fill="#fac858"/>
<path d="M398.26 70.74A66.50 66.50 0 0 1 372.59 136.93L363.00 124.00A50.40 50.40 0 0 0 382.46 73.83Z" fill="#ee6666"/>
<path d="M372.59 136.93A66.50 66.50 0 0 1 319.48 148.61L322.75 132.85A50.40 50.40 0 0 0 363.00 124.00Z" fill="#73c0de"/>
<path d="M319.48 148.61A66.50 66.50 0 0 1 333.00 17.00L333.00 33.10A50.40 50.40 0 0 0 322.75 132.85Z" fill="#3ba272"/>
<path d="M333.00 50.50A33.00 33.00 0 1 1 311.09 108.18L321.91 95.99A16.70 16.70 0 1 0 333.00 66.80Z" fill="#5470c6"/>
<path d="M311.09 108.18A33.00 33.00 0 0 1 333.00 50.50L333.00 66.80A16.70 16.70 0 0 0 321.91 95.99Z" fill="#91cc75"/>
<text x="333.7" y="81.3" class="srb" font-size="6.2" text-anchor="middle" fill="#222">Contri-</text>
<text x="332.5" y="88.7" class="srb" font-size="6.2" text-anchor="middle" fill="#222">bution</text>
<text x="310.4" y="79.2" class="srb" font-size="5.7" text-anchor="middle" fill="#fff">CD</text>
<text x="354.8" y="95.9" class="srb" font-size="5.7" text-anchor="middle" fill="#fff">GEP</text>
<text x="263.1" y="21.6" class="ar" font-size="12.5">b</text>
<g>
<rect x="387.6" y="15.2" width="61.6" height="18.5" rx="1.3" fill="#fff" stroke="#c9c9cf" stroke-width="0.6"/>
<path d="M388.0 15.6h60.8v6.8h-60.8z" fill="#f4f4f8"/>
<line x1="387.6" y1="22.4" x2="449.2" y2="22.4" stroke="#d4d4da" stroke-width="0.45"/>
<text x="418.4" y="20.4" class="ar" font-size="4.25" text-anchor="middle" fill="#85858d">Number of feature</text>
<text x="390.3" y="29.9" class="arb tb" font-size="5.1" fill="#3a3a42">GEP>0.017:</text>
<text x="420.7" y="29.6" class="ar" font-size="4.0" fill="#666">296</text>
<rect x="429.7" y="25.4" width="17.1" height="5.2" rx="0.9" fill="#363b47"/>
<text x="438.3" y="29.4" class="arb" font-size="3.85" text-anchor="middle" fill="#fff">21.91%</text>
</g>
<g>
<rect x="411.0" y="102.2" width="58.4" height="18.2" rx="1.3" fill="#fff" stroke="#c9c9cf" stroke-width="0.6"/>
<path d="M411.4 102.6h57.6v6.8h-57.6z" fill="#f4f4f8"/>
<line x1="411.0" y1="109.4" x2="469.4" y2="109.4" stroke="#d4d4da" stroke-width="0.45"/>
<text x="440.2" y="107.4" class="ar" font-size="4.25" text-anchor="middle" fill="#85858d">Number of feature</text>
<text x="413.7" y="116.7" class="arb tb" font-size="5.1" fill="#3a3a42">CD>0.017:</text>
<text x="440.7" y="116.4" class="ar" font-size="4.0" fill="#666">242</text>
<rect x="449.7" y="112.3" width="17.3" height="5.2" rx="0.9" fill="#363b47"/>
<text x="458.4" y="116.3" class="arb" font-size="3.85" text-anchor="middle" fill="#fff">17.99%</text>
</g>
<g>
<rect x="355.8" y="148.7" width="56.4" height="18.5" rx="1.3" fill="#fff" stroke="#c9c9cf" stroke-width="0.6"/>
<path d="M356.2 149.1h55.6v6.8h-55.6z" fill="#f4f4f8"/>
<line x1="355.8" y1="155.9" x2="412.2" y2="155.9" stroke="#d4d4da" stroke-width="0.45"/>
<text x="384.0" y="153.9" class="ar" font-size="4.25" text-anchor="middle" fill="#85858d">Number of feature</text>
<text x="358.5" y="163.3" class="arb tb" font-size="5.1" fill="#3a3a42">CD<0.017:</text>
<text x="385.5" y="163.0" class="ar" font-size="4.0" fill="#666">181</text>
<rect x="394.5" y="158.9" width="15.3" height="5.2" rx="0.9" fill="#363b47"/>
<text x="402.2" y="162.9" class="arb" font-size="3.85" text-anchor="middle" fill="#fff">13.4%</text>
</g>
<g>
<rect x="237.6" y="150.0" width="58.8" height="18.4" rx="1.3" fill="#fff" stroke="#c9c9cf" stroke-width="0.6"/>
<path d="M238.0 150.4h58.0v6.8h-58.0z" fill="#f4f4f8"/>
<line x1="237.6" y1="157.2" x2="296.4" y2="157.2" stroke="#d4d4da" stroke-width="0.45"/>
<text x="267.0" y="155.2" class="ar" font-size="4.25" text-anchor="middle" fill="#85858d">Number of feature</text>
<text x="240.3" y="164.6" class="arb tb" font-size="5.1" fill="#3a3a42">GEP<0.017:</text>
<text x="270.7" y="164.3" class="ar" font-size="4.0" fill="#666">631</text>
<rect x="279.7" y="160.2" width="14.3" height="5.2" rx="0.9" fill="#363b47"/>
<text x="286.9" y="164.2" class="arb" font-size="3.85" text-anchor="middle" fill="#fff">46.7%</text>
</g>
<line x1="117.6" y1="215.7" x2="117.6" y2="532.8" stroke="#f0f0f0" stroke-width="0.3"/>
<line x1="151.5" y1="215.7" x2="151.5" y2="532.8" stroke="#f0f0f0" stroke-width="0.3"/>
<line x1="185.3" y1="215.7" x2="185.3" y2="532.8" stroke="#f0f0f0" stroke-width="0.3"/>
<line x1="134.5" y1="215.7" x2="134.5" y2="532.8" stroke="#e9e9e9" stroke-width="0.4"/>
<line x1="168.4" y1="215.7" x2="168.4" y2="532.8" stroke="#e9e9e9" stroke-width="0.4"/>
<line x1="202.1" y1="215.7" x2="202.1" y2="532.8" stroke="#e9e9e9" stroke-width="0.4"/>
<line x1="105.2" y1="225.1" x2="205.0" y2="225.1" stroke="#e9e9e9" stroke-width="0.4"/>
<line x1="105.2" y1="240.8" x2="205.0" y2="240.8" stroke="#e9e9e9" stroke-width="0.4"/>
<line x1="105.2" y1="256.5" x2="205.0" y2="256.5" stroke="#e9e9e9" stroke-width="0.4"/>
<line x1="105.2" y1="272.2" x2="205.0" y2="272.2" stroke="#e9e9e9" stroke-width="0.4"/>
<line x1="105.2" y1="287.9" x2="205.0" y2="287.9" stroke="#e9e9e9" stroke-width="0.4"/>
<line x1="105.2" y1="303.6" x2="205.0" y2="303.6" stroke="#e9e9e9" stroke-width="0.4"/>
<line x1="105.2" y1="319.3" x2="205.0" y2="319.3" stroke="#e9e9e9" stroke-width="0.4"/>
<line x1="105.2" y1="335.0" x2="205.0" y2="335.0" stroke="#e9e9e9" stroke-width="0.4"/>
<line x1="105.2" y1="350.7" x2="205.0" y2="350.7" stroke="#e9e9e9" stroke-width="0.4"/>
<line x1="105.2" y1="366.4" x2="205.0" y2="366.4" stroke="#e9e9e9" stroke-width="0.4"/>
<line x1="105.2" y1="382.1" x2="205.0" y2="382.1" stroke="#e9e9e9" stroke-width="0.4"/>
<line x1="105.2" y1="397.8" x2="205.0" y2="397.8" stroke="#e9e9e9" stroke-width="0.4"/>
<line x1="105.2" y1="413.5" x2="205.0" y2="413.5" stroke="#e9e9e9" stroke-width="0.4"/>
<line x1="105.2" y1="429.2" x2="205.0" y2="429.2" stroke="#e9e9e9" stroke-width="0.4"/>
<line x1="105.2" y1="444.9" x2="205.0" y2="444.9" stroke="#e9e9e9" stroke-width="0.4"/>
<line x1="105.2" y1="460.6" x2="205.0" y2="460.6" stroke="#e9e9e9" stroke-width="0.4"/>
<line x1="105.2" y1="476.3" x2="205.0" y2="476.3" stroke="#e9e9e9" stroke-width="0.4"/>
<line x1="105.2" y1="492.0" x2="205.0" y2="492.0" stroke="#e9e9e9" stroke-width="0.4"/>
<line x1="105.2" y1="507.7" x2="205.0" y2="507.7" stroke="#e9e9e9" stroke-width="0.4"/>
<line x1="105.2" y1="523.4" x2="205.0" y2="523.4" stroke="#e9e9e9" stroke-width="0.4"/>
<circle cx="200.3" cy="225.1" r="4.37" fill="#fc0008"/>
<circle cx="200.3" cy="240.8" r="4.37" fill="#f00a3c"/>
<circle cx="188.1" cy="256.5" r="4.16" fill="#f40828"/>
<circle cx="188.1" cy="272.2" r="4.16" fill="#f00a3a"/>
<circle cx="182.0" cy="287.9" r="4.06" fill="#c8148c"/>
<circle cx="176.0" cy="303.6" r="3.95" fill="#f2083a"/>
<circle cx="176.0" cy="319.3" r="3.95" fill="#d61278"/>
<circle cx="176.0" cy="335.0" r="3.95" fill="#cc1488"/>
<circle cx="176.0" cy="350.7" r="3.95" fill="#8a14e2"/>
<circle cx="170.2" cy="366.4" r="3.85" fill="#8c28d8"/>
<circle cx="164.1" cy="382.1" r="3.74" fill="#f0082e"/>
<circle cx="152.2" cy="397.8" r="3.54" fill="#0606ff"/>
<circle cx="145.8" cy="413.5" r="3.43" fill="#fa0a14"/>
<circle cx="145.8" cy="429.2" r="3.43" fill="#de1a6c"/>
<circle cx="140.0" cy="444.9" r="3.33" fill="#f20c30"/>
<circle cx="140.0" cy="460.6" r="3.33" fill="#f00c38"/>
<circle cx="140.0" cy="476.3" r="3.33" fill="#9020d8"/>
<circle cx="133.9" cy="492.0" r="3.22" fill="#0c0cff"/>
<circle cx="115.9" cy="507.7" r="2.50" fill="#f01040"/>
<circle cx="110.1" cy="523.4" r="1.82" fill="#9010e0"/>
<rect x="105.2" y="215.7" width="99.8" height="317.1" fill="none" stroke="#808080" stroke-width="0.5"/>
<line x1="103.9" y1="225.1" x2="105.2" y2="225.1" stroke="#333" stroke-width="0.45"/>
<text x="102.9" y="224.67" class="ar lb" font-size="4.76" text-anchor="end">intrinsic apoptotic</text>
<text x="102.9" y="229.77" class="ar lb" font-size="4.76" text-anchor="end">signaling pathway</text>
<line x1="103.9" y1="240.8" x2="105.2" y2="240.8" stroke="#333" stroke-width="0.45"/>
<text x="102.9" y="242.92" class="ar lb" font-size="4.76" text-anchor="end">response to oxidative stress</text>
<line x1="103.9" y1="256.5" x2="105.2" y2="256.5" stroke="#333" stroke-width="0.45"/>
<text x="102.9" y="256.06" class="ar lb" font-size="4.76" text-anchor="end">cellular response to</text>
<text x="102.9" y="261.16" class="ar lb" font-size="4.76" text-anchor="end">chemical stress</text>
<line x1="103.9" y1="272.2" x2="105.2" y2="272.2" stroke="#333" stroke-width="0.45"/>
<text x="102.9" y="271.76" class="ar lb" font-size="4.76" text-anchor="end">regulation of apoptotic</text>
<text x="102.9" y="276.86" class="ar lb" font-size="4.76" text-anchor="end">signaling pathway</text>
<line x1="103.9" y1="287.9" x2="105.2" y2="287.9" stroke="#333" stroke-width="0.45"/>
<text x="102.9" y="284.91" class="ar lb" font-size="4.76" text-anchor="end">regulation of protein</text>
<text x="102.9" y="290.01" class="ar lb" font-size="4.76" text-anchor="end">serine/threonine kinase</text>
<text x="102.9" y="295.11" class="ar lb" font-size="4.76" text-anchor="end">activity</text>
<line x1="103.9" y1="303.6" x2="105.2" y2="303.6" stroke="#333" stroke-width="0.45"/>
<text x="102.9" y="305.71" class="ar lb" font-size="4.76" text-anchor="end">rhythmic process</text>
<line x1="103.9" y1="319.3" x2="105.2" y2="319.3" stroke="#333" stroke-width="0.45"/>
<text x="102.9" y="321.41" class="ar lb" font-size="4.76" text-anchor="end">response to lipopolysaccharide</text>
<line x1="103.9" y1="335.0" x2="105.2" y2="335.0" stroke="#333" stroke-width="0.45"/>
<text x="102.9" y="337.10" class="ar lb" font-size="4.76" text-anchor="end">regulation of autophagy</text>
<line x1="103.9" y1="350.7" x2="105.2" y2="350.7" stroke="#333" stroke-width="0.45"/>
<text x="102.9" y="350.25" class="ar lb" font-size="4.76" text-anchor="end">response to molecule of</text>
<text x="102.9" y="355.35" class="ar lb" font-size="4.76" text-anchor="end">bacterial origin</text>
<line x1="103.9" y1="366.4" x2="105.2" y2="366.4" stroke="#333" stroke-width="0.45"/>
<text x="102.9" y="368.50" class="ar lb" font-size="4.76" text-anchor="end">response to oxygen levels</text>
<line x1="103.9" y1="382.1" x2="105.2" y2="382.1" stroke="#333" stroke-width="0.45"/>
<text x="102.9" y="384.20" class="ar lb" font-size="4.76" text-anchor="end">protein autophosphorylation</text>
<line x1="103.9" y1="397.8" x2="105.2" y2="397.8" stroke="#333" stroke-width="0.45"/>
<text x="102.9" y="397.35" class="ar lb" font-size="4.76" text-anchor="end">negative regulation of</text>
<text x="102.9" y="402.45" class="ar lb" font-size="4.76" text-anchor="end">apoptotic signaling pathway</text>
<line x1="103.9" y1="413.5" x2="105.2" y2="413.5" stroke="#333" stroke-width="0.45"/>
<text x="102.9" y="413.05" class="ar lb" font-size="4.76" text-anchor="end">epithelial cell apoptotic</text>
<text x="102.9" y="418.15" class="ar lb" font-size="4.76" text-anchor="end">process</text>
<line x1="103.9" y1="429.2" x2="105.2" y2="429.2" stroke="#333" stroke-width="0.45"/>
<text x="102.9" y="428.74" class="ar lb" font-size="4.76" text-anchor="end">regulation of intrinsic</text>
<text x="102.9" y="433.84" class="ar lb" font-size="4.76" text-anchor="end">apoptotic signaling pathway</text>
<line x1="103.9" y1="444.9" x2="105.2" y2="444.9" stroke="#333" stroke-width="0.45"/>
<text x="102.9" y="444.44" class="ar lb" font-size="4.76" text-anchor="end">regulation of epithelial</text>
<text x="102.9" y="449.54" class="ar lb" font-size="4.76" text-anchor="end">cell apoptotic process</text>
<line x1="103.9" y1="460.6" x2="105.2" y2="460.6" stroke="#333" stroke-width="0.45"/>
<text x="102.9" y="462.69" class="ar lb" font-size="4.76" text-anchor="end">response to estradiol</text>
<line x1="103.9" y1="476.3" x2="105.2" y2="476.3" stroke="#333" stroke-width="0.45"/>
<text x="102.9" y="475.84" class="ar lb" font-size="4.76" text-anchor="end">cellular response to oxygen</text>
<text x="102.9" y="480.94" class="ar lb" font-size="4.76" text-anchor="end">levels</text>
<line x1="103.9" y1="492.0" x2="105.2" y2="492.0" stroke="#333" stroke-width="0.45"/>
<text x="102.9" y="494.09" class="ar lb" font-size="4.76" text-anchor="end">cellular response to hypoxia</text>
<line x1="103.9" y1="507.7" x2="105.2" y2="507.7" stroke="#333" stroke-width="0.45"/>
<text x="102.9" y="504.68" class="ar lb" font-size="4.76" text-anchor="end">negative regulation of</text>
<text x="102.9" y="509.78" class="ar lb" font-size="4.76" text-anchor="end">epithelial cell apoptotic</text>
<text x="102.9" y="514.88" class="ar lb" font-size="4.76" text-anchor="end">process</text>
<line x1="103.9" y1="523.4" x2="105.2" y2="523.4" stroke="#333" stroke-width="0.45"/>
<text x="102.9" y="522.93" class="ar lb" font-size="4.76" text-anchor="end">positive regulation of Notch</text>
<text x="102.9" y="528.03" class="ar lb" font-size="4.76" text-anchor="end">signaling pathway</text>
<line x1="134.5" y1="532.8" x2="134.5" y2="534.1" stroke="#333" stroke-width="0.45"/>
<text x="134.5" y="538.7" class="ar" font-size="4.5" text-anchor="middle" fill="#4d4d4d">0.04</text>
<line x1="168.4" y1="532.8" x2="168.4" y2="534.1" stroke="#333" stroke-width="0.45"/>
<text x="168.4" y="538.7" class="ar" font-size="4.5" text-anchor="middle" fill="#4d4d4d">0.06</text>
<line x1="202.1" y1="532.8" x2="202.1" y2="534.1" stroke="#333" stroke-width="0.45"/>
<text x="202.1" y="538.7" class="ar" font-size="4.5" text-anchor="middle" fill="#4d4d4d">0.08</text>
<text x="155.1" y="544.8" class="ar" font-size="5.1" text-anchor="middle">GeneRatio</text>
<text x="105.2" y="212.1" class="ar" font-size="6.2">GO Enrichment_BP</text>
<text x="212.7" y="326.2" class="ar" font-size="5.1">Count</text>
<circle cx="218.0" cy="334.0" r="2.70" fill="#000"/>
<text x="225.2" y="335.4" class="ar" font-size="3.9">10</text>
<circle cx="218.0" cy="342.0" r="3.30" fill="#000"/>
<text x="225.2" y="343.4" class="ar" font-size="3.9">14</text>
<circle cx="218.0" cy="351.2" r="3.85" fill="#000"/>
<text x="225.2" y="352.6" class="ar" font-size="3.9">18</text>
<circle cx="218.0" cy="361.7" r="4.40" fill="#000"/>
<text x="225.2" y="363.1" class="ar" font-size="3.9">22</text>
<text x="212.7" y="381.8" class="ar" font-size="5.1">p.adjust</text>
<rect x="212.7" y="385.5" width="8.3" height="41.0" fill="url(#pg)"/>
<line x1="212.7" y1="393.0" x2="214.3" y2="393.0" stroke="#fff" stroke-width="0.3"/>
<line x1="219.4" y1="393.0" x2="221.0" y2="393.0" stroke="#fff" stroke-width="0.3"/>
<text x="222.9" y="394.4" class="ar" font-size="3.9">0.0015</text>
<line x1="212.7" y1="404.3" x2="214.3" y2="404.3" stroke="#fff" stroke-width="0.3"/>
<line x1="219.4" y1="404.3" x2="221.0" y2="404.3" stroke="#fff" stroke-width="0.3"/>
<text x="222.9" y="405.7" class="ar" font-size="3.9">0.0010</text>
<line x1="212.7" y1="415.4" x2="214.3" y2="415.4" stroke="#fff" stroke-width="0.3"/>
<line x1="219.4" y1="415.4" x2="221.0" y2="415.4" stroke="#fff" stroke-width="0.3"/>
<text x="222.9" y="416.8" class="ar" font-size="3.9">0.0005</text>
<text x="66.7" y="193.9" class="arb" font-size="12.2">c</text>
<line x1="347.0" y1="215.7" x2="347.0" y2="532.8" stroke="#f0f0f0" stroke-width="0.3"/>
<line x1="375.7" y1="215.7" x2="375.7" y2="532.8" stroke="#f0f0f0" stroke-width="0.3"/>
<line x1="403.9" y1="215.7" x2="403.9" y2="532.8" stroke="#f0f0f0" stroke-width="0.3"/>
<line x1="332.5" y1="215.7" x2="332.5" y2="532.8" stroke="#e9e9e9" stroke-width="0.4"/>
<line x1="361.6" y1="215.7" x2="361.6" y2="532.8" stroke="#e9e9e9" stroke-width="0.4"/>
<line x1="389.8" y1="215.7" x2="389.8" y2="532.8" stroke="#e9e9e9" stroke-width="0.4"/>
<line x1="418.0" y1="215.7" x2="418.0" y2="532.8" stroke="#e9e9e9" stroke-width="0.4"/>
<line x1="327.2" y1="225.1" x2="425.2" y2="225.1" stroke="#e9e9e9" stroke-width="0.4"/>
<line x1="327.2" y1="240.8" x2="425.2" y2="240.8" stroke="#e9e9e9" stroke-width="0.4"/>
<line x1="327.2" y1="256.5" x2="425.2" y2="256.5" stroke="#e9e9e9" stroke-width="0.4"/>
<line x1="327.2" y1="272.2" x2="425.2" y2="272.2" stroke="#e9e9e9" stroke-width="0.4"/>
<line x1="327.2" y1="287.9" x2="425.2" y2="287.9" stroke="#e9e9e9" stroke-width="0.4"/>
<line x1="327.2" y1="303.6" x2="425.2" y2="303.6" stroke="#e9e9e9" stroke-width="0.4"/>
<line x1="327.2" y1="319.3" x2="425.2" y2="319.3" stroke="#e9e9e9" stroke-width="0.4"/>
<line x1="327.2" y1="335.0" x2="425.2" y2="335.0" stroke="#e9e9e9" stroke-width="0.4"/>
<line x1="327.2" y1="350.7" x2="425.2" y2="350.7" stroke="#e9e9e9" stroke-width="0.4"/>
<line x1="327.2" y1="366.4" x2="425.2" y2="366.4" stroke="#e9e9e9" stroke-width="0.4"/>
<line x1="327.2" y1="382.1" x2="425.2" y2="382.1" stroke="#e9e9e9" stroke-width="0.4"/>
<line x1="327.2" y1="397.8" x2="425.2" y2="397.8" stroke="#e9e9e9" stroke-width="0.4"/>
<line x1="327.2" y1="413.5" x2="425.2" y2="413.5" stroke="#e9e9e9" stroke-width="0.4"/>
<line x1="327.2" y1="429.2" x2="425.2" y2="429.2" stroke="#e9e9e9" stroke-width="0.4"/>
<line x1="327.2" y1="444.9" x2="425.2" y2="444.9" stroke="#e9e9e9" stroke-width="0.4"/>
<line x1="327.2" y1="460.6" x2="425.2" y2="460.6" stroke="#e9e9e9" stroke-width="0.4"/>
<line x1="327.2" y1="476.3" x2="425.2" y2="476.3" stroke="#e9e9e9" stroke-width="0.4"/>
<line x1="327.2" y1="492.0" x2="425.2" y2="492.0" stroke="#e9e9e9" stroke-width="0.4"/>
<line x1="327.2" y1="507.7" x2="425.2" y2="507.7" stroke="#e9e9e9" stroke-width="0.4"/>
<line x1="327.2" y1="523.4" x2="425.2" y2="523.4" stroke="#e9e9e9" stroke-width="0.4"/>
<circle cx="421.0" cy="225.1" r="4.47" fill="#fa0612"/>
<circle cx="421.0" cy="240.8" r="4.47" fill="#f80818"/>
<circle cx="414.1" cy="256.5" r="4.37" fill="#fc0408"/>
<circle cx="386.5" cy="272.2" r="3.74" fill="#f2082a"/>
<circle cx="386.5" cy="287.9" r="3.74" fill="#e61050"/>
<circle cx="379.7" cy="303.6" r="3.64" fill="#f00c3c"/>
<circle cx="372.8" cy="319.3" r="3.54" fill="#e01068"/>
<circle cx="372.8" cy="335.0" r="3.54" fill="#d01480"/>
<circle cx="372.8" cy="350.7" r="3.54" fill="#c01ea0"/>
<circle cx="365.9" cy="366.4" r="3.33" fill="#0a0aff"/>
<circle cx="359.0" cy="382.1" r="3.22" fill="#f00838"/>
<circle cx="359.0" cy="397.8" r="3.22" fill="#f00838"/>
<circle cx="359.0" cy="413.5" r="3.22" fill="#b020b0"/>
<circle cx="352.1" cy="429.2" r="3.12" fill="#f00838"/>
<circle cx="345.2" cy="444.9" r="3.02" fill="#e01060"/>
<circle cx="345.2" cy="460.6" r="3.02" fill="#9018d8"/>
<circle cx="338.4" cy="476.3" r="2.60" fill="#5020f0"/>
<circle cx="331.5" cy="492.0" r="1.82" fill="#f01040"/>
<circle cx="331.5" cy="507.7" r="1.82" fill="#c010a0"/>
<circle cx="331.5" cy="523.4" r="1.82" fill="#5020f0"/>
<rect x="327.2" y="215.7" width="98.0" height="317.1" fill="none" stroke="#808080" stroke-width="0.5"/>
<line x1="325.9" y1="225.1" x2="327.2" y2="225.1" stroke="#333" stroke-width="0.45"/>
<text x="324.9" y="227.22" class="ar lb" font-size="4.76" text-anchor="end">MAPK signaling pathway</text>
<line x1="325.9" y1="240.8" x2="327.2" y2="240.8" stroke="#333" stroke-width="0.45"/>
<text x="324.9" y="242.92" class="ar lb" font-size="4.76" text-anchor="end">Human papillomavirus infection</text>
<line x1="325.9" y1="256.5" x2="327.2" y2="256.5" stroke="#333" stroke-width="0.45"/>
<text x="324.9" y="258.61" class="ar lb" font-size="4.76" text-anchor="end">Lipid and atherosclerosis</text>
<line x1="325.9" y1="272.2" x2="327.2" y2="272.2" stroke="#333" stroke-width="0.45"/>
<text x="324.9" y="274.31" class="ar lb" font-size="4.76" text-anchor="end">Epstein-Barr virus infection</text>
<line x1="325.9" y1="287.9" x2="327.2" y2="287.9" stroke="#333" stroke-width="0.45"/>
<text x="324.9" y="290.01" class="ar lb" font-size="4.76" text-anchor="end">Ras signaling pathway</text>
<line x1="325.9" y1="303.6" x2="327.2" y2="303.6" stroke="#333" stroke-width="0.45"/>
<text x="324.9" y="303.16" class="ar lb" font-size="4.76" text-anchor="end">Pathogenic Escherichia coli</text>
<text x="324.9" y="308.26" class="ar lb" font-size="4.76" text-anchor="end">infection</text>
<line x1="325.9" y1="319.3" x2="327.2" y2="319.3" stroke="#333" stroke-width="0.45"/>
<text x="324.9" y="318.86" class="ar lb" font-size="4.76" text-anchor="end">Kaposi sarcoma-associated</text>
<text x="324.9" y="323.96" class="ar lb" font-size="4.76" text-anchor="end">herpesvirus infection</text>
<line x1="325.9" y1="335.0" x2="327.2" y2="335.0" stroke="#333" stroke-width="0.45"/>
<text x="324.9" y="337.10" class="ar lb" font-size="4.76" text-anchor="end">Viral carcinogenesis</text>
<line x1="325.9" y1="350.7" x2="327.2" y2="350.7" stroke="#333" stroke-width="0.45"/>
<text x="324.9" y="352.80" class="ar lb" font-size="4.76" text-anchor="end">Rap1 signaling pathway</text>
<line x1="325.9" y1="366.4" x2="327.2" y2="366.4" stroke="#333" stroke-width="0.45"/>
<text x="324.9" y="368.50" class="ar lb" font-size="4.76" text-anchor="end">Focal adhesion</text>
<line x1="325.9" y1="382.1" x2="327.2" y2="382.1" stroke="#333" stroke-width="0.45"/>
<text x="324.9" y="384.20" class="ar lb" font-size="4.76" text-anchor="end">Apoptosis</text>
<line x1="325.9" y1="397.8" x2="327.2" y2="397.8" stroke="#333" stroke-width="0.45"/>
<text x="324.9" y="399.90" class="ar lb" font-size="4.76" text-anchor="end">Measles</text>
<line x1="325.9" y1="413.5" x2="327.2" y2="413.5" stroke="#333" stroke-width="0.45"/>
<text x="324.9" y="415.60" class="ar lb" font-size="4.76" text-anchor="end">Hepatitis B</text>
<line x1="325.9" y1="429.2" x2="327.2" y2="429.2" stroke="#333" stroke-width="0.45"/>
<text x="324.9" y="431.29" class="ar lb" font-size="4.76" text-anchor="end">TNF signaling pathway</text>
<line x1="325.9" y1="444.9" x2="327.2" y2="444.9" stroke="#333" stroke-width="0.45"/>
<text x="324.9" y="446.99" class="ar lb" font-size="4.76" text-anchor="end">NF-kappa B signaling pathway</text>
<line x1="325.9" y1="460.6" x2="327.2" y2="460.6" stroke="#333" stroke-width="0.45"/>
<text x="324.9" y="462.69" class="ar lb" font-size="4.76" text-anchor="end">Neurotrophin signaling pathway</text>
<line x1="325.9" y1="476.3" x2="327.2" y2="476.3" stroke="#333" stroke-width="0.45"/>
<text x="324.9" y="475.84" class="ar lb" font-size="4.76" text-anchor="end">AGE-RAGE signaling pathway</text>
<text x="324.9" y="480.94" class="ar lb" font-size="4.76" text-anchor="end">in diabetic complications</text>
<line x1="325.9" y1="492.0" x2="327.2" y2="492.0" stroke="#333" stroke-width="0.45"/>
<text x="324.9" y="494.09" class="ar lb" font-size="4.76" text-anchor="end">VEGF signaling pathway</text>
<line x1="325.9" y1="507.7" x2="327.2" y2="507.7" stroke="#333" stroke-width="0.45"/>
<text x="324.9" y="509.78" class="ar lb" font-size="4.76" text-anchor="end">p53 signaling pathway</text>
<line x1="325.9" y1="523.4" x2="327.2" y2="523.4" stroke="#333" stroke-width="0.45"/>
<text x="324.9" y="522.93" class="ar lb" font-size="4.76" text-anchor="end">EGFR tyrosine kinase</text>
<text x="324.9" y="528.03" class="ar lb" font-size="4.76" text-anchor="end">inhibitor resistance</text>
<line x1="332.5" y1="532.8" x2="332.5" y2="534.1" stroke="#333" stroke-width="0.45"/>
<text x="332.5" y="538.7" class="ar" font-size="4.5" text-anchor="middle" fill="#4d4d4d">0.050</text>
<line x1="361.6" y1="532.8" x2="361.6" y2="534.1" stroke="#333" stroke-width="0.45"/>
<text x="361.6" y="538.7" class="ar" font-size="4.5" text-anchor="middle" fill="#4d4d4d">0.075</text>
<line x1="389.8" y1="532.8" x2="389.8" y2="534.1" stroke="#333" stroke-width="0.45"/>
<text x="389.8" y="538.7" class="ar" font-size="4.5" text-anchor="middle" fill="#4d4d4d">0.100</text>
<line x1="418.0" y1="532.8" x2="418.0" y2="534.1" stroke="#333" stroke-width="0.45"/>
<text x="418.0" y="538.7" class="ar" font-size="4.5" text-anchor="middle" fill="#4d4d4d">0.125</text>
<text x="376.2" y="544.8" class="ar" font-size="5.1" text-anchor="middle">GeneRatio</text>
<text x="327.2" y="212.1" class="ar" font-size="6.2">KEGG Enrichment</text>
<text x="433.6" y="322.1" class="ar" font-size="5.1">Count</text>
<circle cx="438.9" cy="329.2" r="2.30" fill="#000"/>
<text x="446.1" y="330.6" class="ar" font-size="3.9">9</text>
<circle cx="438.9" cy="337.5" r="3.00" fill="#000"/>
<text x="446.1" y="338.9" class="ar" font-size="3.9">12</text>
<circle cx="438.9" cy="346.2" r="3.60" fill="#000"/>
<text x="446.1" y="347.6" class="ar" font-size="3.9">15</text>
<circle cx="438.9" cy="355.9" r="4.10" fill="#000"/>
<text x="446.1" y="357.3" class="ar" font-size="3.9">18</text>
<circle cx="438.9" cy="366.3" r="4.55" fill="#000"/>
<text x="446.1" y="367.7" class="ar" font-size="3.9">21</text>
<text x="433.6" y="387.1" class="ar" font-size="5.1">p.adjust</text>
<rect x="433.6" y="389.7" width="8.3" height="41.3" fill="url(#pg)"/>
<line x1="433.6" y1="392.5" x2="435.2" y2="392.5" stroke="#fff" stroke-width="0.3"/>
<line x1="440.3" y1="392.5" x2="441.9" y2="392.5" stroke="#fff" stroke-width="0.3"/>
<text x="443.8" y="393.9" class="ar" font-size="3.9">0.0025</text>
<line x1="433.6" y1="399.7" x2="435.2" y2="399.7" stroke="#fff" stroke-width="0.3"/>
<line x1="440.3" y1="399.7" x2="441.9" y2="399.7" stroke="#fff" stroke-width="0.3"/>
<text x="443.8" y="401.1" class="ar" font-size="3.9">0.0020</text>
<line x1="433.6" y1="407.6" x2="435.2" y2="407.6" stroke="#fff" stroke-width="0.3"/>
<line x1="440.3" y1="407.6" x2="441.9" y2="407.6" stroke="#fff" stroke-width="0.3"/>
<text x="443.8" y="409.0" class="ar" font-size="3.9">0.0015</text>
<line x1="433.6" y1="415.5" x2="435.2" y2="415.5" stroke="#fff" stroke-width="0.3"/>
<line x1="440.3" y1="415.5" x2="441.9" y2="415.5" stroke="#fff" stroke-width="0.3"/>
<text x="443.8" y="416.9" class="ar" font-size="3.9">0.0010</text>
<line x1="433.6" y1="423.1" x2="435.2" y2="423.1" stroke="#fff" stroke-width="0.3"/>
<line x1="440.3" y1="423.1" x2="441.9" y2="423.1" stroke="#fff" stroke-width="0.3"/>
<text x="443.8" y="424.5" class="ar" font-size="3.9">0.0005</text>
<text x="248.7" y="199.1" class="ar" font-size="12.5">d</text>
</svg>
</body></html>
